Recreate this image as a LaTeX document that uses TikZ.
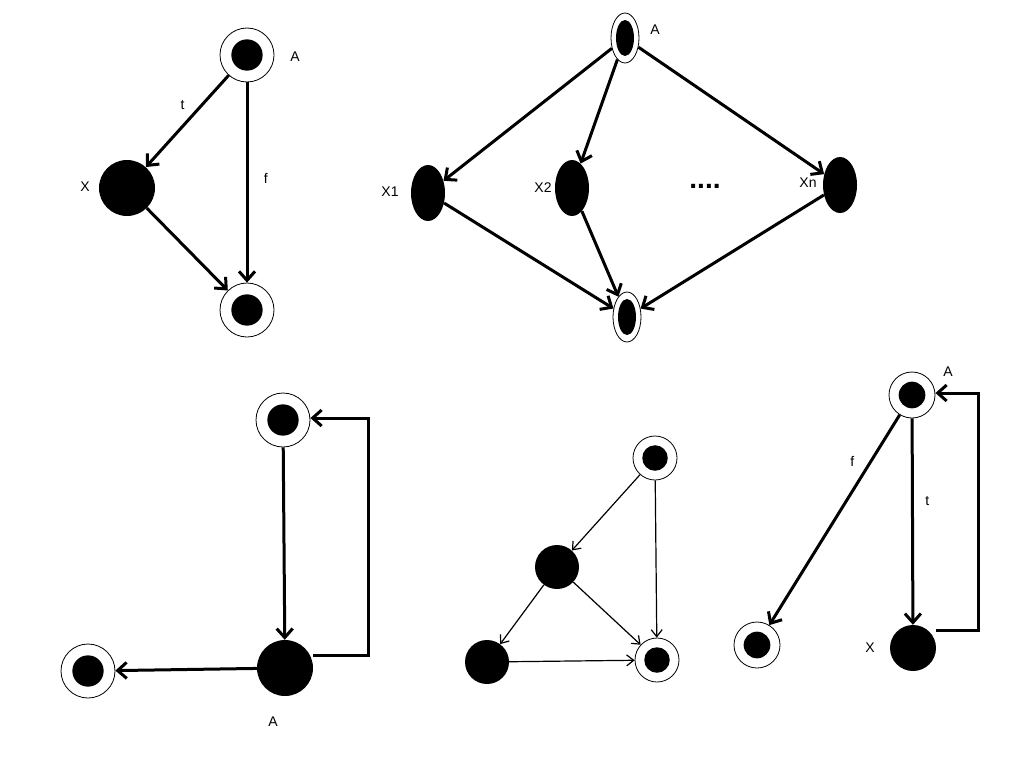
\documentclass[tikz,border=0pt]{standalone}
\usepackage{fontspec}
\setmainfont{Liberation Sans}
\usetikzlibrary{arrows.meta,shapes.geometric}
\begin{document}
\begin{tikzpicture}[x=1pt,y=-1pt,
  dbl/.style={circle,draw,fill=white,line width=0.8pt,minimum size=#1,inner sep=0pt,path picture={\fill[black] (path picture bounding box.center) circle[radius=0.29*#1];}},
  dbl/.default=54pt,
  blk/.style={circle,fill=black,minimum size=#1,inner sep=0pt},
  blk/.default=56pt,
  dell/.style={ellipse,draw,fill=white,line width=0.8pt,minimum width=28pt,minimum height=50pt,inner sep=0pt,path picture={\fill[black] (path picture bounding box.center) ellipse[x radius=9pt,y radius=18pt];}},
  bell/.style={ellipse,fill=black,minimum width=34pt,minimum height=56pt,inner sep=0pt},
  thk/.style={line width=3pt,-{Straight Barb[length=9pt,width=16pt]}},
  thn/.style={line width=1.2pt,-{Straight Barb[length=7pt,width=11pt]}},
  lab/.style={font=\fontsize{14}{16}\selectfont}]
\useasboundingbox (0,0) rectangle (1024,768);
% diagram 1
\node[dbl] (a1) at (247,55) {};
\node[blk] (x1) at (127,188) {};
\node[dbl] (b1) at (247,310) {};
\node[lab] at (295,57) {A};
\node[lab] at (85,187) {X};
\draw[thk] (a1) -- node[pos=0.45,above left=2pt,lab]{t} (x1);
\draw[thk] (a1) -- node[pos=0.48,right=12pt,lab]{f} (b1);
\draw[thk] (x1) -- (b1);
% diagram 2
\node[dell] (a2) at (625,38) {};
\node[bell] (n1) at (428,193) {};
\node[bell] (n2) at (572,188) {};
\node[bell] (nn) at (840,185) {};
\node[dell] (b2) at (627,317) {};
\node[lab] at (655,30) {A};
\node[lab] at (390,192) {X1};
\node[lab] at (543,188) {X2};
\node[lab] at (808,183) {Xn};
\node[font=\fontsize{28}{30}\selectfont\bfseries] at (705,186) {....};
\draw[thk] (a2) -- (n1);
\draw[thk] (a2) -- (n2);
\draw[thk] (a2) -- (nn);
\draw[thk] (n1) -- (b2);
\draw[thk] (n2) -- (b2);
\draw[thk] (nn) -- (b2);
% diagram 3
\node[dbl] (t3) at (283,420) {};
\node[blk] (a3) at (285,668) {};
\node[dbl] (l3) at (88,671) {};
\node[lab] at (273,722) {A};
\draw[thk] (t3) -- (a3);
\draw[thk] (a3) -- (l3);
\coordinate (c3a) at (368,655);
\coordinate (c3b) at (368,418);
\draw[thk] (a3.east |- c3a) -- (c3a) -- (c3b) -- (t3.east |- c3b);
% diagram 4
\node[dbl=44pt] (t4) at (655,458) {};
\node[blk=44pt] (m4) at (557,567) {};
\node[blk=44pt] (l4) at (487,662) {};
\node[dbl=44pt] (r4) at (657,660) {};
\draw[thn] (t4) -- (m4);
\draw[thn] (t4) -- (r4);
\draw[thn] (m4) -- (l4);
\draw[thn] (m4) -- (r4);
\draw[thn] (l4) -- (r4);
% diagram 5
\node[dbl=46pt] (a5) at (912,395) {};
\node[dbl=46pt] (l5) at (757,645) {};
\node[blk=46pt] (x5) at (913,648) {};
\node[lab] at (948,372) {A};
\node[lab] at (870,648) {X};
\draw[thk] (a5) -- node[pos=0.22,left=12pt,lab]{f} (l5);
\draw[thk] (a5) -- node[pos=0.4,right=8pt,lab]{t} (x5);
\coordinate (c5a) at (978,630);
\coordinate (c5b) at (978,393);
\draw[thk] (x5.east |- c5a) -- (c5a) -- (c5b) -- (a5.east |- c5b);
\end{tikzpicture}
\end{document}
